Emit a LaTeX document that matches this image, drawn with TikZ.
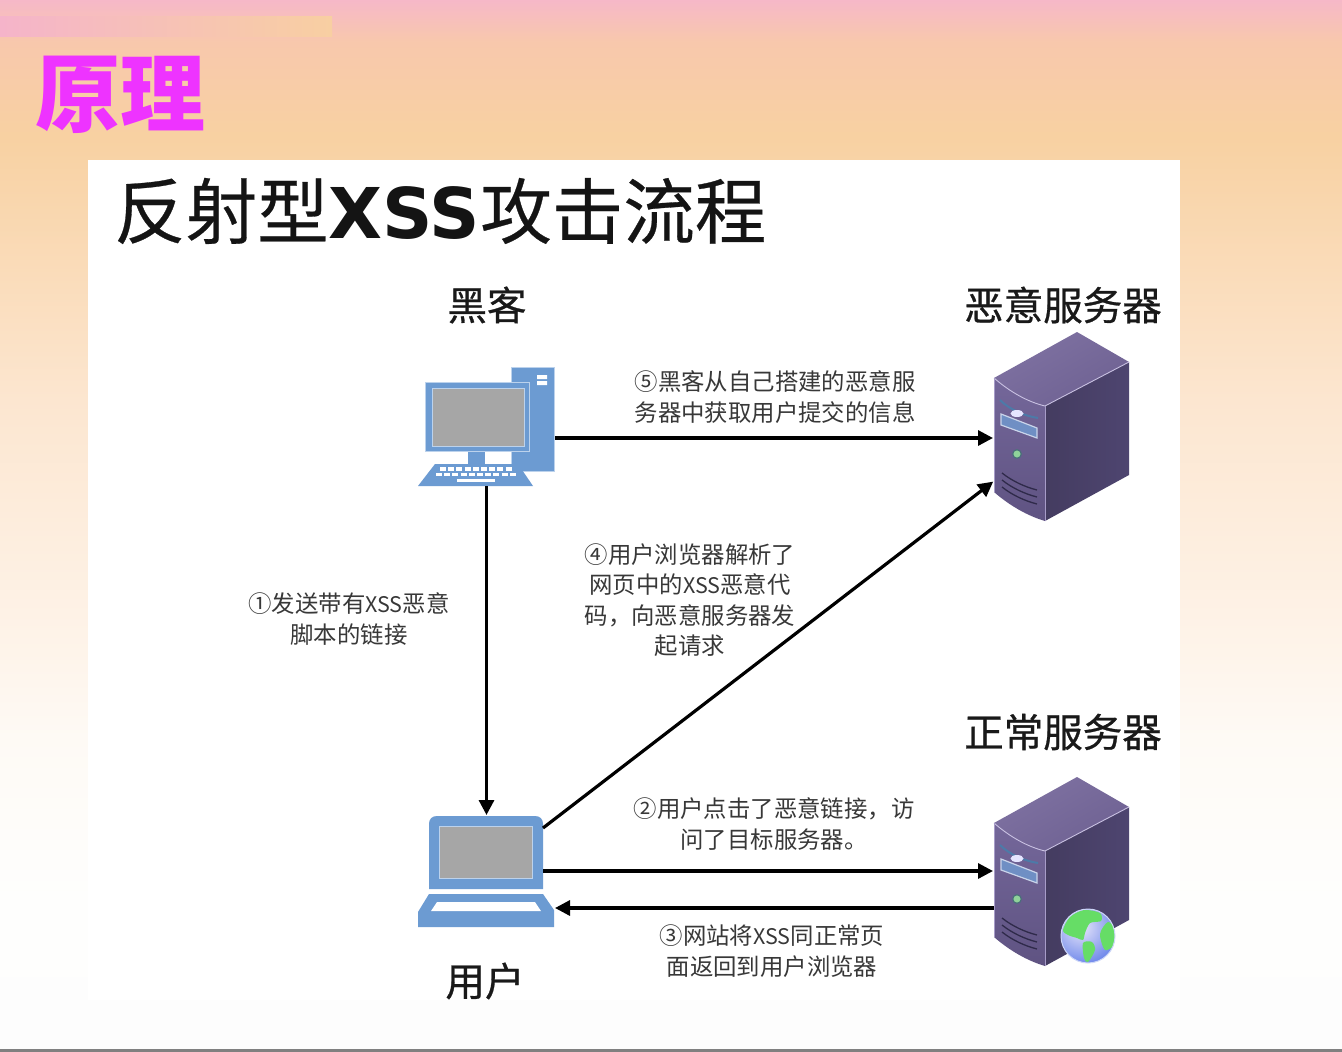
\documentclass[tikz,border=0pt]{standalone}
\usepackage{fontspec}
\setmainfont{Noto Sans CJK SC}
\newfontfamily\headfont{Noto Sans CJK SC}[FakeBold=0.7]
\newfontfamily\titlefont{Noto Sans CJK SC}[FakeBold=0.4]
\newfontfamily\latinbold{DejaVu Sans}[BoldFont={DejaVu Sans Bold}]
\usetikzlibrary{arrows.meta,shadings,calc}
\definecolor{bgz}{HTML}{FDFDFD}
\definecolor{bgy}{HTML}{FEFEFD}
\definecolor{bgx}{HTML}{FEFAF5}
\definecolor{bga}{HTML}{FEF4EA}
\definecolor{bgb}{HTML}{FCE6D0}
\definecolor{bgc}{HTML}{F8D1A2}
\definecolor{bgd}{HTML}{F8C8AC}
\definecolor{bge}{HTML}{F6B8C8}
\pgfdeclareverticalshading{pagebg}{100bp}{
  color(0bp)=(bgz);
  color(25bp)=(bgz);
  color(32.2bp)=(bgy);
  color(40bp)=(bgx);
  color(44bp)=(bga);
  color(56bp)=(bgb);
  color(68.5bp)=(bgc);
  color(73bp)=(bgd);
  color(75bp)=(bge);
  color(100bp)=(bge)}
\definecolor{iconblue}{HTML}{6C9BD2}
\definecolor{iconedge}{HTML}{BCD2EC}
\definecolor{screengray}{HTML}{A6A6A6}
\definecolor{titlepink}{HTML}{EE33FF}
\definecolor{srvtopa}{HTML}{7F72A2}
\definecolor{srvtopb}{HTML}{6E6192}
\definecolor{srvsidea}{HTML}{443C60}
\definecolor{srvsideb}{HTML}{4E4570}
\definecolor{srvfronta}{HTML}{74679A}
\definecolor{srvfrontb}{HTML}{5F5382}
\definecolor{srvhi}{HTML}{C9C1E2}
\definecolor{srvhib}{HTML}{A79CC8}
\definecolor{srvslot}{HTML}{4C7AA8}
\definecolor{srvdrive}{HTML}{6F8FC4}
\definecolor{srvdriveb}{HTML}{C9D4EA}
\definecolor{srvled}{HTML}{8FD39A}
\definecolor{srvledb}{HTML}{4A6F7A}
\definecolor{srvvent}{HTML}{2F2A4A}
\definecolor{bandl}{HTML}{F5B4CA}
\definecolor{bandr}{HTML}{F8CFA2}
\definecolor{globeblue}{HTML}{5A78E8}
\definecolor{globelite}{HTML}{E8E6FA}
\definecolor{globegreen}{HTML}{66DD66}
\definecolor{barcol}{HTML}{808080}
\newcommand{\xssmark}{{\fontsize{21.5}{30}\selectfont XSS}}
\tikzset{
  iconbox/.style={inner sep=0pt,outer sep=0pt,draw=none},
  flow/.style={line width=3.2pt,black,-{Triangle[length=15pt,width=15pt]},shorten >=1pt},
  lbl/.style={font=\fontsize{23.4}{30.3}\selectfont,text=black!78,align=center,inner sep=0pt},
  head/.style={font=\headfont\fontsize{39.5}{44}\selectfont,text=black!90,inner sep=0pt},
  iconfill/.style={fill=iconblue,draw=iconedge,line width=0.7pt},
  keyrow/.style={white,line width=3.4pt,dash pattern=on 6pt off 2.2pt}
}
\newcommand{\serverbody}{
  \shade[top color=srvtopa,bottom color=srvtopb,shading angle=30]
    (994,378) -- (1077,332) -- (1129,362) -- (1045,406) .. controls (1028,402) and (1010,392) .. (994,378) -- cycle;
  \shade[left color=srvsidea,right color=srvsideb]
    (1045,406) -- (1129,362) -- (1129,475) -- (1045,521) -- cycle;
  \shade[top color=srvfronta,bottom color=srvfrontb]
    (994,378) .. controls (1010,392) and (1028,402) .. (1045,406) -- (1045,521) .. controls (1028,516) and (1010,506) .. (994,492) -- cycle;
  \draw[draw=srvhi,line width=0.9pt] (994,378) .. controls (1010,392) and (1028,402) .. (1045,406) -- (1129,362);
  \draw[draw=srvhib,line width=0.7pt] (1045,406) -- (1045,521);
  \draw[draw=srvhib,line width=0.6pt] (994,378) -- (994,492);
  \draw[draw=srvslot,line width=2pt] (1000,400) .. controls (1010,410) and (1025,416) .. (1038,418);
  \fill[white!90!blue] (1017,413.5) ellipse (6.5 and 3.5);
  \draw[fill=srvdrive,draw=srvdriveb,line width=1.2pt] (1001,414) -- (1037,428) -- (1037,438) -- (1001,425) -- cycle;
  \draw[fill=srvled,draw=srvledb,line width=1.2pt] (1017,454) circle (4.3);
  \draw[draw=srvvent,line width=1.3pt] (1002,473) .. controls (1012,481) and (1025,487) .. (1037,490);
  \draw[draw=srvvent,line width=1.3pt] (1002,480) .. controls (1012,488) and (1025,494) .. (1037,497);
  \draw[draw=srvvent,line width=1.3pt] (1002,487) .. controls (1012,495) and (1025,501) .. (1037,504);
}
\begin{document}
\begin{tikzpicture}[x=1pt,y=-1pt]
\useasboundingbox (0,0) rectangle (1342,1052);
% page background
\shade[shading=pagebg] (0,0) rectangle (1342,1052);
\shade[left color=bandl,right color=bandr] (0,16) rectangle (332,36);
\fill[white] (88,160) rectangle (1180,1000);
\fill[barcol] (0,1048.5) rectangle (1342,1052);
% slide title
\node[font=\fontsize{85}{90}\selectfont\bfseries,text=titlepink,inner sep=0pt] (slidetitle) at (120.5,95) {原理};
% picture title
\node[anchor=west,inner sep=0pt,font=\titlefont\fontsize{71.5}{76}\selectfont,text=black!92] (pictitle) at (114,211) {反射型{\latinbold\bfseries\fontsize{70}{76}\selectfont XSS}攻击流程};
% headings
\node[head] (hhacker) at (487,305) {黑客};
\node[head] (hevil) at (1063,305) {恶意服务器};
\node[head] (hnormal) at (1063,732) {正常服务器};
\node[head] (huser) at (485,981) {用户};
% hacker desktop
\path[iconfill] (511,367) rectangle (554,471);
\fill[white] (537,375) rectangle (547,379) (537,381) rectangle (547,385);
\fill[iconblue] (468,452) rectangle (485,464);
\path[iconfill] (425,382) rectangle (529,451);
\path[fill=screengray,draw=iconedge,line width=0.8pt] (432,388) rectangle (524,446);
\fill[iconblue] (435,464) -- (518,464) -- (533,486) -- (418,486) -- cycle;
\draw[keyrow] (440,469) -- (513,469);
\draw[keyrow] (436,474.5) -- (517,474.5);
\fill[white] (457,478.5) rectangle (495,482);
% user laptop
\fill[iconblue] (429,889) -- (429,824) .. controls (429,819) and (432,816) .. (437,816) -- (535,816) .. controls (540,816) and (543,819) .. (543,824) -- (543,889) -- cycle;
\path[fill=screengray,draw=iconedge,line width=0.9pt] (439,826) rectangle (532,878);
\fill[iconblue] (429,894) -- (543,894) -- (554,910) -- (554,927) -- (418,927) -- (418,912) -- cycle;
\fill[white] (437,902) -- (535,902) -- (541,911) -- (431,911) -- cycle;
% servers
\serverbody
\begin{scope}[shift={(0,445)}]
\serverbody
\end{scope}
% globe
\begin{scope}
\clip (1088,936) circle (27);
\shade[inner color=globelite,outer color=globeblue] (1081,927) circle (44);
\fill[globegreen] plot[smooth cycle] coordinates {(1063,930) (1070,917) (1084,910) (1100,913) (1101,921) (1090,923) (1085,933) (1083,940) (1077,938) (1068,935)};
\fill[globegreen] plot[smooth cycle] coordinates {(1100,934) (1108,922) (1116,930) (1115,944) (1105,950)};
\fill[globegreen] plot[smooth cycle] coordinates {(1083,943) (1092,942) (1095,950) (1088,962) (1084,958)};
\end{scope}
\draw[draw=white!70!globeblue,line width=1pt] (1088,936) circle (27);
% anchors of the icons
\node[iconbox,minimum width=137pt,minimum height=120pt] (hacker) at (486.5,426) {};
\node[iconbox,minimum width=114pt,minimum height=73pt] (lid) at (486,852.5) {};
\node[iconbox,minimum width=136pt,minimum height=33pt] (base) at (486,910.5) {};
\node[iconbox,minimum width=135pt,minimum height=189pt] (evil) at (1061.5,426.5) {};
\node[iconbox,minimum width=135pt,minimum height=189pt] (normal) at (1061.5,871.5) {};
% connectors
\draw[flow] (hacker.east |- 0,438) -- (evil.west |- 0,438);
\draw[flow] (hacker.south) -- (hacker.south |- lid.north);
\draw[flow] (lid.east |- 0,828) -- (evil.west |- 0,481);
\draw[flow] (lid.east |- 0,871) -- (normal.west |- 0,871);
\draw[flow] (normal.west |- 0,908) -- (base.east |- 0,908);
% labels
\node[lbl] (l5) at (775,397) {⑤黑客从自己搭建的恶意服\\务器中获取用户提交的信息};
\node[lbl] (l4) at (690,600) {④用户浏览器解析了\\网页中的\xssmark{}恶意代\\码，向恶意服务器发\\起请求};
\node[lbl] (l1) at (349,619) {①发送带有\xssmark{}恶意\\脚本的链接};
\node[lbl] (l2) at (774,824) {②用户点击了恶意链接，访\\问了目标服务器。};
\node[lbl] (l3) at (772,951) {③网站将\xssmark{}同正常页\\面返回到用户浏览器};
\end{tikzpicture}
\end{document}
